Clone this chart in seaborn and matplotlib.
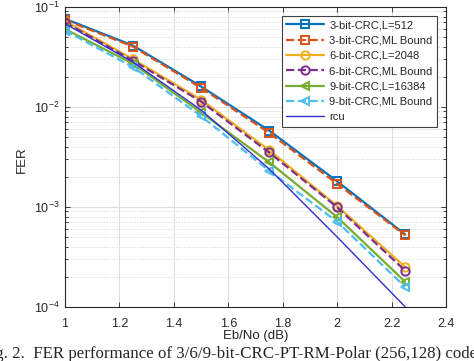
import numpy as np
import pandas as pd
import matplotlib
matplotlib.use("Agg")
import matplotlib.pyplot as plt
from matplotlib.ticker import LogLocator, NullFormatter, FixedLocator
import seaborn as sns

# Eb/No points (dB)
ebno = [1.0, 1.25, 1.5, 1.75, 2.0, 2.25]

# FER values
fer_3bit_sim = [0.076, 0.041, 0.0160, 0.0058, 0.00180, 0.00053]
fer_3bit_ml = [0.074, 0.040, 0.0155, 0.0055, 0.00170, 0.00052]
fer_6bit_sim = [0.072, 0.030, 0.0118, 0.0037, 0.00102, 0.00025]
fer_6bit_ml = [0.070, 0.029, 0.0113, 0.0035, 0.00099, 0.00023]
fer_9bit_sim = [0.060, 0.027, 0.0088, 0.0028, 0.00079, 0.000178]
fer_9bit_ml = [0.058, 0.025, 0.0081, 0.0023, 0.00071, 0.000158]
fer_rcu = [0.068, 0.028, 0.0093, 0.0024, 0.00050, 0.000100]

labels = ["3-bit-CRC,L=512", "3-bit-CRC,ML Bound",
          "6-bit-CRC,L=2048", "6-bit-CRC,ML Bound",
          "9-bit-CRC,L=16384", "9-bit-CRC,ML Bound", "rcu"]
series = [fer_3bit_sim, fer_3bit_ml, fer_6bit_sim, fer_6bit_ml,
          fer_9bit_sim, fer_9bit_ml, fer_rcu]
colors = ["#0072BD", "#D95319", "#EDB120", "#7E2F8E",
          "#77AC30", "#4DBEEE", "#2F2FD0"]
markers = ["s", "s", "o", "o", "<", "<", None]
dashed = [False, True, False, True, False, True, False]

sns.set_theme(style="ticks")
plt.rcParams["font.family"] = ["Liberation Sans", "DejaVu Sans"]

fig = plt.figure(figsize=(4.74, 3.61), dpi=100)
ax = fig.add_axes([0.137, 0.150, 0.804, 0.831])

for lab, vals, col, mk, ds in zip(labels, series, colors, markers, dashed):
    df = pd.DataFrame({"x": ebno, "y": vals})
    sns.lineplot(data=df, x="x", y="y", ax=ax, color=col, label=lab,
                 linewidth=1.0 if lab == "rcu" else 1.6,
                 linestyle="--" if ds else "-",
                 marker=mk, markersize=6, markerfacecolor="none",
                 markeredgecolor=col, markeredgewidth=1.4)

ax.set_yscale("log")
ax.set_xlim(1, 2.4)
ax.set_ylim(1e-4, 1e-1)
ax.xaxis.set_major_locator(FixedLocator([1, 1.2, 1.4, 1.6, 1.8, 2, 2.2, 2.4]))
ax.set_xticklabels(["1", "1.2", "1.4", "1.6", "1.8", "2", "2.2", "2.4"])
ax.yaxis.set_major_locator(LogLocator(base=10, numticks=10))
ax.yaxis.set_minor_locator(LogLocator(base=10, subs=np.arange(2, 10), numticks=20))
ax.yaxis.set_minor_formatter(NullFormatter())

ax.grid(True, which="major", color="#dcdcdc", linewidth=0.7)
ax.grid(True, which="minor", axis="y", color="#d2d2d2", linestyle=":", linewidth=0.7)
ax.set_axisbelow(True)

ax.tick_params(which="both", direction="in", top=True, right=True,
               labelsize=9, colors="#262626", width=0.6)
ax.tick_params(which="major", length=3.5)
ax.tick_params(axis="x", which="major", pad=8)
ax.tick_params(axis="y", which="major", pad=4)
ax.tick_params(which="minor", length=2)
for sp in ax.spines.values():
    sp.set_color("#262626")
    sp.set_linewidth(0.8)

ax.set_xlabel("Eb/No (dB)", fontsize=9.5, color="#262626")
ax.set_ylabel("FER", fontsize=9.5, color="#262626")
ax.xaxis.set_label_coords(0.5, -0.076)
ax.yaxis.set_label_coords(-0.097, 0.49)

leg = ax.legend(loc="upper right", fontsize=8, frameon=True, fancybox=False,
                edgecolor="#404040", framealpha=1, handlelength=3.4,
                labelspacing=0.48, borderaxespad=0.8, borderpad=0.4,
                handletextpad=0.5)
leg.get_frame().set_linewidth(0.8)

fig.text(-0.04, 0.009, "Fig. 2.  FER performance of 3/6/9-bit-CRC-PT-RM-Polar (256,128) codes",
         fontsize=12.2, family=["Liberation Serif", "DejaVu Serif"], ha="left", va="baseline")

fig.savefig("out.png", dpi=100)
